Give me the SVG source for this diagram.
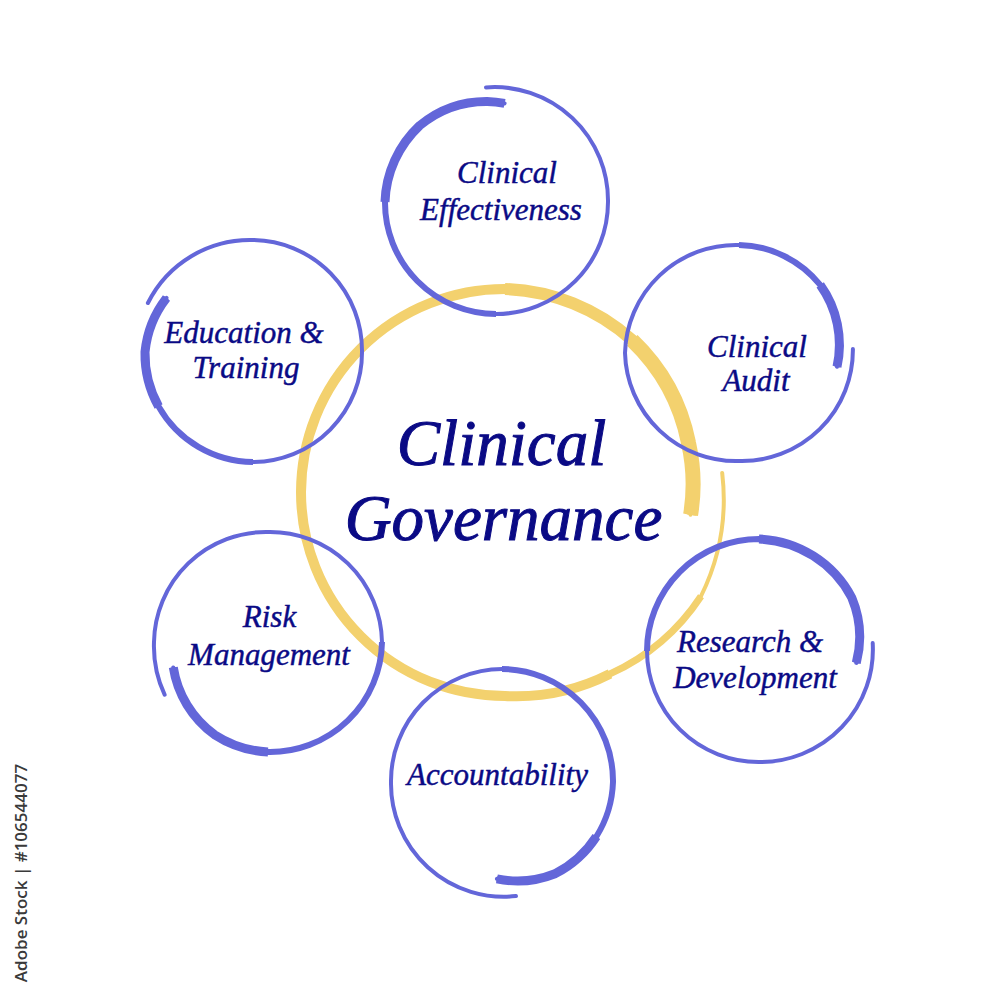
<svg xmlns="http://www.w3.org/2000/svg" width="1000" height="1000" viewBox="0 0 1000 1000">
<style>
.b{fill:none;stroke:#6366d9;stroke-linecap:round;stroke-linejoin:round}
.y{fill:none;stroke:#f3d16e;stroke-linecap:round;stroke-linejoin:round}
.t{stroke-linecap:butt}
.w4{stroke-width:4}.w6{stroke-width:6}.w9{stroke-width:9}
.yw4{stroke-width:4}.yw7{stroke-width:7}.yw10{stroke-width:10}.yw12{stroke-width:12}.yw15{stroke-width:15}
.lbl{font-family:"Liberation Serif","Times New Roman",serif;font-style:italic;font-size:31px;fill:#0a0a85;stroke:#0a0a85;stroke-width:0.45;text-anchor:middle}
.ttl{font-family:"Liberation Serif","Times New Roman",serif;font-style:italic;font-size:65px;fill:#0a0a85;stroke:#0a0a85;stroke-width:1;text-anchor:middle}
.stock{font-family:"Open Sans","DejaVu Sans",sans-serif;font-size:17px;font-weight:600;fill:#3a3a3a;text-anchor:middle}
</style>
<rect width="1000" height="1000" fill="#ffffff"/>

<g id="center-clinical-governance">
<path class="y yw4" d="M722.2,473 A220,220 0 0 1 701,596.2 A216,216 0 0 1 610,673.9 A207,207 0 0 1 505,696 A204,204 0 0 1 301,492 A203.5,203.5 0 0 1 505,289 A200.5,200.5 0 0 1 632.3,340.3 A194,194 0 0 1 688.5,442.8 A188.5,188.5 0 0 1 690.6,514.8"/>
<path class="y t yw7" d="M701,596.2 A216,216 0 0 1 610,673.9 A207,207 0 0 1 505,696 A204,204 0 0 1 301,492 A203.5,203.5 0 0 1 505,289 A200.5,200.5 0 0 1 632.3,340.3 A194,194 0 0 1 688.5,442.8 A188.5,188.5 0 0 1 690.6,514.8"/>
<path class="y t yw10" d="M610,673.9 A207,207 0 0 1 505,696 A204,204 0 0 1 301,492 A203.5,203.5 0 0 1 505,289 A200.5,200.5 0 0 1 632.3,340.3 A194,194 0 0 1 688.5,442.8 A188.5,188.5 0 0 1 690.6,514.8"/>
<path class="y t yw12" d="M505,289 A200.5,200.5 0 0 1 632.3,340.3 A194,194 0 0 1 688.5,442.8 A188.5,188.5 0 0 1 690.6,514.8"/>
<path class="y t yw15" d="M632.3,340.3 A194,194 0 0 1 688.5,442.8 A188.5,188.5 0 0 1 690.6,514.8"/>
<text class="ttl" x="501.5" y="465">Clinical</text>
<text class="ttl" x="503.5" y="540">Governance</text>
</g>

<g id="node-clinical-effectiveness">
<path class="b w4" d="M486,87.4 A113.5,113.5 0 0 1 608,202 A112,112 0 0 1 496,314 A111.5,111.5 0 0 1 385,202 A109.5,109.5 0 0 1 419.6,125.6 A104.5,104.5 0 0 1 487.2,101.4 A100,100 0 0 1 504.6,103.4"/>
<path class="b t w6" d="M496,314 A111.5,111.5 0 0 1 385,202 A109.5,109.5 0 0 1 419.6,125.6 A104.5,104.5 0 0 1 487.2,101.4 A100,100 0 0 1 504.6,103.4"/>
<path class="b t w9" d="M385,202 A109.5,109.5 0 0 1 419.6,125.6 A104.5,104.5 0 0 1 487.2,101.4 A100,100 0 0 1 504.6,103.4"/>
<text class="lbl" x="507" y="183">Clinical</text>
<text class="lbl" x="501" y="220">Effectiveness</text>
</g>

<g id="node-education-training">
<path class="b w4" d="M147.9,303 A114,114 0 0 1 253,240 A110.5,110.5 0 0 1 362,352 A109.5,109.5 0 0 1 253,462 A109.5,109.5 0 0 1 158.6,406.5 A108.5,108.5 0 0 1 145,352 A105,105 0 0 1 166.5,297.9"/>
<path class="b t w6" d="M253,462 A109.5,109.5 0 0 1 158.6,406.5 A108.5,108.5 0 0 1 145,352 A105,105 0 0 1 166.5,297.9"/>
<path class="b t w9" d="M158.6,406.5 A108.5,108.5 0 0 1 145,352 A105,105 0 0 1 166.5,297.9"/>
<text class="lbl" x="244" y="343">Education &amp;</text>
<text class="lbl" x="246" y="378">Training</text>
</g>

<g id="node-clinical-audit">
<path class="b w4" d="M852.9,349 A111,111 0 0 1 739,461 A111,111 0 0 1 625,353 A111,111 0 0 1 739,245 A107,107 0 0 1 820.2,284.9 A102.5,102.5 0 0 1 837,366.8"/>
<path class="b t w6" d="M739,245 A107,107 0 0 1 820.2,284.9 A102.5,102.5 0 0 1 837,366.8"/>
<path class="b t w9" d="M820.2,284.9 A102.5,102.5 0 0 1 837,366.8"/>
<text class="lbl" x="757" y="357">Clinical</text>
<text class="lbl" x="756" y="391">Audit</text>
</g>

<g id="node-risk-management">
<path class="b w4" d="M164.6,694.7 A115,115 0 0 1 154,642 A112,112 0 0 1 268,532 A112,112 0 0 1 382,642 A112,112 0 0 1 268,752 A108.5,108.5 0 0 1 214.5,734.7 A102.5,102.5 0 0 1 173.3,667.4"/>
<path class="b t w6" d="M382,642 A112,112 0 0 1 268,752 A108.5,108.5 0 0 1 214.5,734.7 A102.5,102.5 0 0 1 173.3,667.4"/>
<path class="b t w9" d="M268,752 A108.5,108.5 0 0 1 214.5,734.7 A102.5,102.5 0 0 1 173.3,667.4"/>
<text class="lbl" x="269.5" y="627">Risk</text>
<text class="lbl" x="269" y="665">Management</text>
</g>

<g id="node-accountability">
<path class="b w4" d="M516,896.1 A113,113 0 0 1 391,782 A112,112 0 0 1 502,669 A112,112 0 0 1 613,782 A110,110 0 0 1 596.4,836.5 A107.5,107.5 0 0 1 555,873.8 A101.5,101.5 0 0 1 496.9,878.9"/>
<path class="b t w6" d="M502,669 A112,112 0 0 1 613,782 A110,110 0 0 1 596.4,836.5 A107.5,107.5 0 0 1 555,873.8 A101.5,101.5 0 0 1 496.9,878.9"/>
<path class="b t w9" d="M596.4,836.5 A107.5,107.5 0 0 1 555,873.8 A101.5,101.5 0 0 1 496.9,878.9"/>
<text class="lbl" x="497.5" y="785">Accountability</text>
</g>

<g id="node-research-development">
<path class="b w4" d="M872.7,643 A112.5,112.5 0 0 1 759,762 A111.5,111.5 0 0 1 647,651 A112,112 0 0 1 759,539 A109.5,109.5 0 0 1 851.7,597.5 A102.5,102.5 0 0 1 856.3,662.9"/>
<path class="b t w6" d="M647,651 A112,112 0 0 1 759,539 A109.5,109.5 0 0 1 851.7,597.5 A102.5,102.5 0 0 1 856.3,662.9"/>
<path class="b t w9" d="M759,539 A109.5,109.5 0 0 1 851.7,597.5 A102.5,102.5 0 0 1 856.3,662.9"/>
<text class="lbl" x="750" y="652">Research &amp;</text>
<text class="lbl" x="755" y="688">Development</text>
</g>

<g id="connectors"></g>

<text class="stock" transform="translate(27,873) rotate(-90)">Adobe Stock | #106544077</text>
</svg>
